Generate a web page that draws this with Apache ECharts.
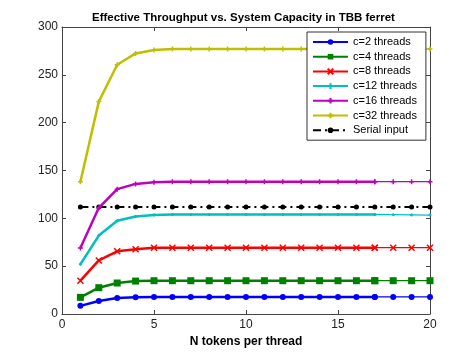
<!DOCTYPE html>
<html>
<head>
<meta charset="utf-8">
<script src="https://cdn.jsdelivr.net/npm/echarts@6/dist/echarts.min.js"></script>
<style>
  html, body { margin: 0; padding: 0; background: #fff; }
  #chart { width: 474px; height: 353px; }
</style>
</head>
<body>
<div id="chart"></div>
<script>
// N tokens per thread
const tokens = [1, 2, 3, 4, 5, 6, 7, 8, 9, 10, 11, 12, 13, 14, 15, 16, 17, 18, 19, 20]

const c2 = [8.5, 13.6, 16.7, 17.6, 17.8, 17.8, 17.8, 17.8, 17.8, 17.8, 17.8, 17.8, 17.8, 17.8, 17.8, 17.8, 17.8, 17.8, 17.8, 17.8]
const c4 = [17.4, 27.5, 32.4, 34.4, 34.8, 34.8, 34.8, 34.8, 34.8, 34.8, 34.8, 34.8, 34.8, 34.8, 34.8, 34.8, 34.8, 34.8, 34.8, 34.8]
const c8 = [34.8, 56, 65.5, 67.6, 69.2, 69.3, 69.3, 69.3, 69.3, 69.3, 69.3, 69.3, 69.3, 69.3, 69.3, 69.3, 69.3, 69.3, 69.3, 69.3]
const c12 = [52, 82, 97.5, 102, 103.6, 104, 104, 104, 104, 104, 104, 104, 104, 104, 104, 104, 104, 103.8, 103.6, 103.4]
const c16 = [69, 111, 130.5, 136, 137.8, 138.3, 138.3, 138.3, 138.3, 138.3, 138.3, 138.3, 138.3, 138.3, 138.3, 138.3, 138.3, 138.3, 138.3, 138.3]
const c32 = [138.3, 222, 260.5, 272.4, 276, 277, 277, 277, 277, 277, 277, 277, 277, 277, 277, 277, 277, 277, 277, 277]
const serial = [111.8, 111.8, 111.8, 111.8, 111.8, 111.8, 111.8, 111.8, 111.8, 111.8, 111.8, 111.8, 111.8, 111.8, 111.8, 111.8, 111.8, 111.8, 111.8, 111.8]

const xTicks = [0, 5, 10, 15, 20]
const yTicks = [0, 50, 100, 150, 200, 250, 300]

const crossPath = 'path://M0,0L10,10M10,0L0,10'
const plusPath = 'path://M5,0L5,10M0,5L10,5'

const curves = [
  { name: 'c=2 threads', values: c2, color: '#0000ff', symbol: 'circle', size: 6 },
  { name: 'c=4 threads', values: c4, color: '#008000', symbol: 'rect', size: 7 },
  { name: 'c=8 threads', values: c8, color: '#ff0000', symbol: crossPath, size: 6, stroke: true },
  { name: 'c=12 threads', values: c12, color: '#00bfbf', symbol: plusPath, size: 3, stroke: true },
  { name: 'c=16 threads', values: c16, color: '#bf00bf', symbol: plusPath, size: 5, stroke: true },
  { name: 'c=32 threads', values: c32, color: '#bfbf00', symbol: plusPath, size: 5, stroke: true }
]

function pairs(vals, from, to) {
  const out = []
  for (let i = from; i < to; i++) out.push([tokens[i], vals[i]])
  return out
}

const series = []
curves.forEach(c => {
  const item = c.stroke
    ? { color: c.color, borderColor: c.color, borderWidth: 1.5 }
    : { color: c.color }
  // thick part (first 17 points) and thin tail
  series.push({
    name: c.name, type: 'line', data: pairs(c.values, 0, 17),
    symbol: c.symbol, symbolSize: c.size, showSymbol: true,
    lineStyle: { color: c.color, width: 2.5 }, itemStyle: item, animation: false
  })
  series.push({
    name: c.name, type: 'line', data: pairs(c.values, 16, 20),
    symbol: c.symbol, symbolSize: c.size, showSymbol: true,
    lineStyle: { color: c.color, width: 1.3 }, itemStyle: item, animation: false
  })
})
series.push({
  name: 'Serial input', type: 'line', data: pairs(serial, 0, 20),
  symbol: 'circle', symbolSize: 5,
  lineStyle: { color: '#000', width: 2, type: [8, 4, 2, 4] },
  itemStyle: { color: '#000' }, animation: false, z: 1
})

const axisCommon = {
  axisLine: { onZero: false, lineStyle: { color: '#444', width: 1 } },
  axisTick: { inside: true, length: 4, lineStyle: { color: '#444' } },
  splitLine: { show: false }
}

const myChart = echarts.init(document.getElementById('chart'))
myChart.setOption({
  backgroundColor: '#fff',
  title: {
    text: 'Effective Throughput vs. System Capacity in TBB ferret',
    left: 87, top: 7,
    textStyle: { fontFamily: 'Liberation Sans', fontSize: 11.5, fontWeight: 'bold', color: '#000' }
  },
  grid: { left: 62, right: 44, top: 27, bottom: 39 },
  legend: {
    orient: 'vertical', left: 307, top: 32,
    backgroundColor: '#fff', borderColor: '#333', borderWidth: 1,
    padding: [4, 9, 4, 5], itemGap: 2.7, itemWidth: 35, itemHeight: 7,
    textStyle: { fontFamily: 'Liberation Sans', fontSize: 11, lineHeight: 12, color: '#000' },
    data: curves.map(c => c.name).concat(['Serial input'])
  },
  xAxis: [
    Object.assign({}, axisCommon, {
      type: 'value', min: 0, max: 20, interval: 5,
      name: 'N tokens per thread', nameLocation: 'middle', nameGap: 21,
      nameTextStyle: { fontFamily: 'Liberation Sans', fontSize: 12, fontWeight: 'bold', color: '#000' },
      axisLabel: { fontFamily: 'Liberation Sans', fontSize: 12, color: '#222', margin: 5,
        customValues: xTicks }
    }),
    Object.assign({}, axisCommon, {
      type: 'value', min: 0, max: 20, interval: 5, position: 'top',
      axisLabel: { show: false }
    })
  ],
  yAxis: [
    Object.assign({}, axisCommon, {
      type: 'value', min: 0, max: 300, interval: 50,
      axisLabel: { fontFamily: 'Liberation Sans', fontSize: 12, color: '#222', margin: 4,
        customValues: yTicks }
    }),
    Object.assign({}, axisCommon, {
      type: 'value', min: 0, max: 300, interval: 50, position: 'right',
      axisLabel: { show: false }
    })
  ],
  series: series
})
</script>
</body>
</html>
